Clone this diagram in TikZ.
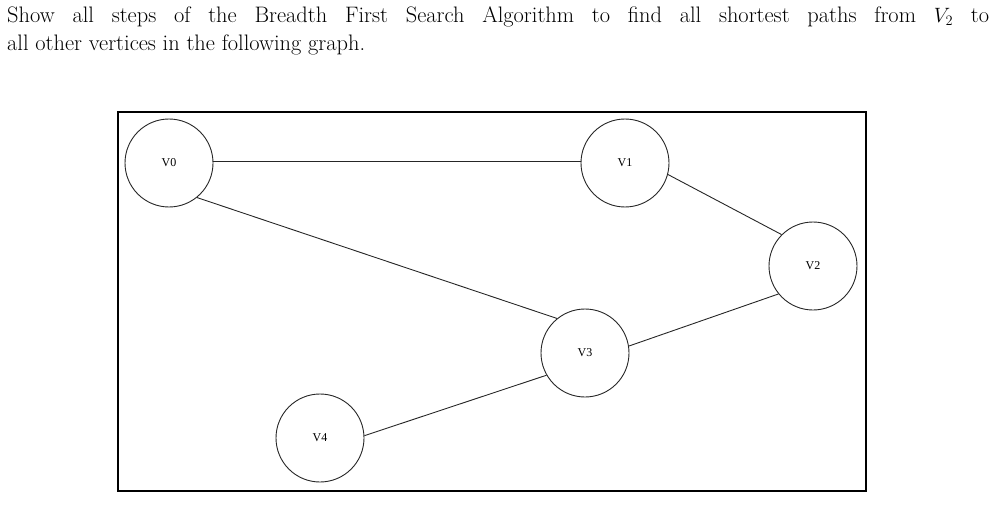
\documentclass[tikz,border=0pt]{standalone}
\usepackage{fontspec}
\newfontfamily\tms{Liberation Serif}
\begin{document}
\begin{tikzpicture}[x=1pt,y=-1pt,
  v/.style={circle,draw=black!85,line width=0.9pt,minimum size=88pt,inner sep=0pt,font=\tms\fontsize{12}{14}\selectfont},
  e/.style={draw=black!85,line width=0.9pt}]
\useasboundingbox (0,0) rectangle (996,508);
\node[anchor=north west,text width=982pt,align=justify,inner sep=0pt,font=\fontsize{22.4}{28}\selectfont] (t) at (7,6)
 {Show all steps of the Breadth First Search Algorithm to find all shortest paths from $V_2$ to\linebreak all other vertices in the following graph.};
\draw[line width=1.8pt] (118,112) rectangle (866,491);
\node[v] (v0) at (169,163) {V0};
\node[v] (v1) at (625,163) {V1};
\node[v] (v2) at (813,266) {V2};
\node[v] (v3) at (585,353) {V3};
\node[v] (v4) at (320,438) {V4};
\draw[e] (v0.2)--(v1.178); \draw[e] (v0.-51)--(v3.129); \draw[e] (v1.-15)--(v2.135);
\draw[e] (v2.-141)--(v3.9); \draw[e] (v3.-150)--(v4.3);
\end{tikzpicture}
\end{document}
